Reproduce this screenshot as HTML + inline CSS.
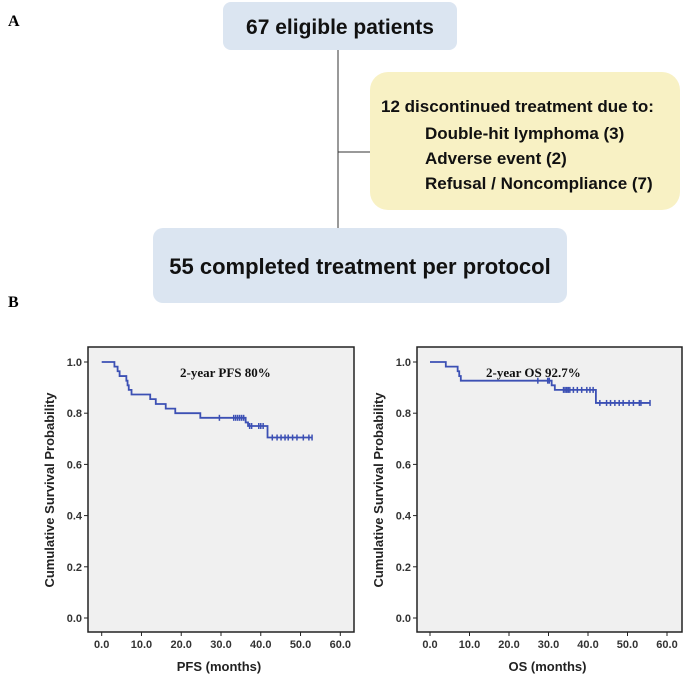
<!DOCTYPE html>
<html><head><meta charset="utf-8"><style>
body{margin:0;background:#fff;width:685px;height:677px;overflow:hidden;font-family:"Liberation Sans",Arial,sans-serif}
</style></head><body>
<svg width="685" height="677" xmlns="http://www.w3.org/2000/svg">
<text x="8" y="26" font-family="Liberation Serif" font-weight="bold" font-size="16">A</text>
<text x="8" y="307" font-family="Liberation Serif" font-weight="bold" font-size="16">B</text>
<line x1="338" y1="50" x2="338" y2="228" stroke="#333" stroke-width="1"/>
<line x1="338" y1="152" x2="370" y2="152" stroke="#333" stroke-width="1"/>
<rect x="223" y="2" width="234" height="48" rx="8" fill="#dbe5f1"/>
<text x="340" y="34" text-anchor="middle" font-weight="bold" font-size="21" fill="#111">67 eligible patients</text>
<rect x="370" y="72" width="310" height="138" rx="18" fill="#f8f1c4"/>
<g font-weight="bold" font-size="17" fill="#111">
<text x="381" y="112">12 discontinued treatment due to:</text>
<text x="425" y="139">Double-hit lymphoma (3)</text>
<text x="425" y="164">Adverse event (2)</text>
<text x="425" y="189">Refusal / Noncompliance (7)</text>
</g>
<rect x="153" y="228" width="414" height="75" rx="10" fill="#dbe5f1"/>
<text x="360" y="274" text-anchor="middle" font-weight="bold" font-size="22" fill="#111">55 completed treatment per protocol</text>
<g id="c1"></g><g id="c2"></g>
</svg>
<script>
const pfsTimes=[3.2,4,4.5,6.2,6.5,6.8,7.5,12.2,13.6,16.1,18.5,24.8,36.2,36.8,41.7];
const pfsSurv=[0.982,0.964,0.945,0.927,0.909,0.891,0.873,0.855,0.836,0.818,0.800,0.782,0.764,0.75,0.705];
const pfsCens=[29.6,33.2,33.7,34.2,34.7,35.2,35.7,37.2,37.7,39.5,40,40.6,42.9,44.1,45.1,46.1,46.9,48,49.1,50.7,52.1,52.9];
const osTimes=[4,7,7.4,7.8,30.8,31.6,42];
const osSurv=[0.982,0.964,0.945,0.927,0.909,0.891,0.840];
const osCens=[27.3,29.8,30.2,33.8,34.2,34.6,35,35.4,36.3,37.3,38.4,39.7,40.5,41.3,43,44.7,45.7,46.8,47.9,48.9,50.4,51.5,53,53.4,55.7];
const xTicks=["0.0","10.0","20.0","30.0","40.0","50.0","60.0"];
const yTicks=["0.0","0.2","0.4","0.6","0.8","1.0"];
const NS="http://www.w3.org/2000/svg";
function mk(p,t,a){const e=document.createElementNS(NS,t);for(const k in a)e.setAttribute(k,a[k]);p.appendChild(e);return e;}
function chart(g,L,R,x0,x60,times,surv,cens,ann,annX,xt){
 const X=t=>x0+(x60-x0)*t/60, Y=v=>618-256*v;
 let e=mk(g,'rect',{x:L,y:347,width:R-L,height:285,fill:'#f0f0f0',stroke:'#222','stroke-width':1.5});
 
 
 yTicks.forEach(s=>{const y=Y(+s);mk(g,'line',{x1:L-4,x2:L,y1:y,y2:y,stroke:'#222'});
  e=mk(g,'text',{x:L-6,y:y+4,'text-anchor':'end','font-size':11,'font-weight':'bold',fill:'#333'});e.textContent=s;
  
  });
 xTicks.forEach(s=>{const x=X(+s);mk(g,'line',{x1:x,x2:x,y1:632,y2:636,stroke:'#222'});
  e=mk(g,'text',{x:x,y:648,'text-anchor':'middle','font-size':11,'font-weight':'bold',fill:'#333'});e.textContent=s;
  
  });
 e=mk(g,'text',{x:(L+R)/2-2,y:671,'text-anchor':'middle','font-size':13,'font-weight':'bold',fill:'#222'});e.textContent=xt;
 
 
 e=mk(g,'text',{x:0,y:0,'text-anchor':'middle','font-size':13,'font-weight':'bold',fill:'#222',transform:`translate(${L-34},490) rotate(-90)`});e.textContent='Cumulative Survival Probability';
 
 
 e=mk(g,'text',{x:annX,y:377,'font-family':'Liberation Serif','font-size':13,'font-weight':'bold',fill:'#111'});e.textContent=ann;
 
 
 let d=`M${X(0)},${Y(1)}`;
 const last=Math.max(...cens);
 times.forEach((t,i)=>{d+=` H${X(t)} V${Y(surv[i])}`;});
 d+=` H${X(last)}`;
 e=mk(g,'path',{d:d,fill:'none',stroke:'#3c50b4','stroke-width':1.8});
 
 
 cens.forEach(t=>{let s=1;times.forEach((tt,i)=>{if(tt<=t)s=surv[i];});
  const c=mk(g,'line',{x1:X(t),x2:X(t),y1:Y(s)-3,y2:Y(s)+3,stroke:'#3c50b4','stroke-width':1.5});
  
  });
}
const c1=document.getElementById('c1');


const c2=document.getElementById('c2');


chart(c1,88,354,101.7,340.3,pfsTimes,pfsSurv,pfsCens,'2-year PFS 80%',180,'PFS (months)');
chart(c2,417,682,430,667,osTimes,osSurv,osCens,'2-year OS 92.7%',486,'OS (months)');
</script>
</body></html>
